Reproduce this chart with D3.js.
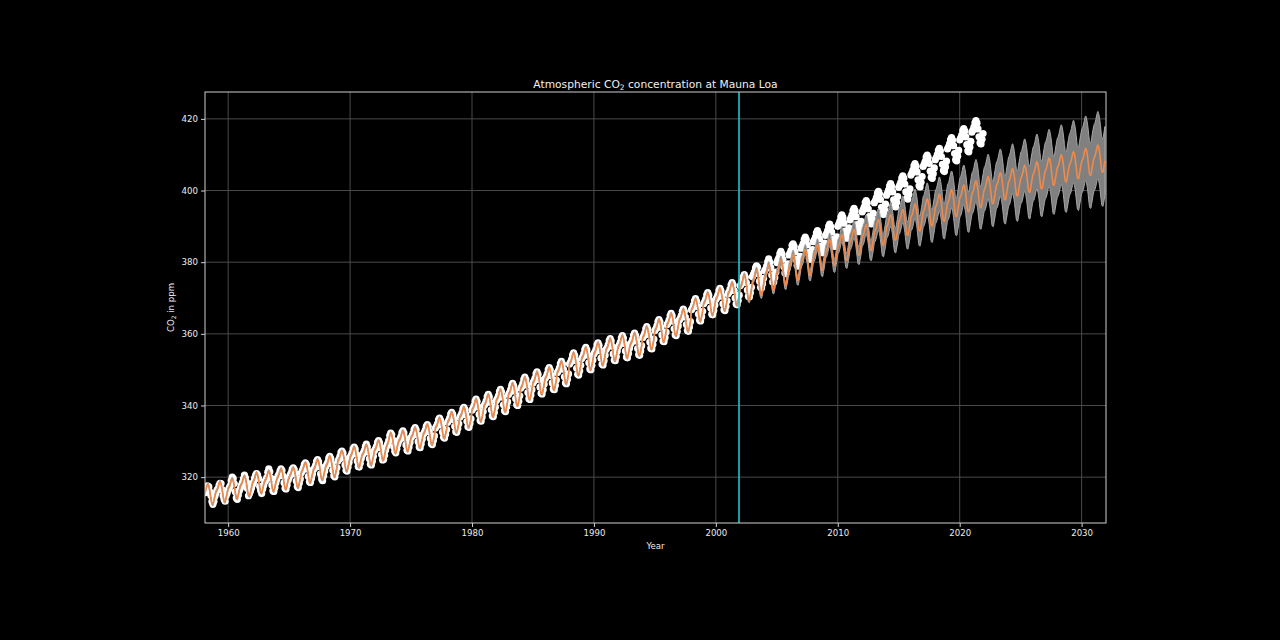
<!DOCTYPE html>
<html><head><meta charset="utf-8">
<script src="https://cdn.jsdelivr.net/npm/d3@7"></script>
<style>body{margin:0;background:#000}</style>
</head><body><svg id="c" width="1280" height="640"></svg>
<script>
// ---- data (monthly) ----
const obsStartYear = 1958, obsStartMonth = 3;
const observedCO2 = [
315.7,317.5,317.5,317.3,315.9,314.9,313.2,312.4,313.3,314.7,
315.6,316.4,316.7,317.7,318.3,318.2,316.5,314.8,313.8,313.3,314.8,315.6,
316.4,317.0,317.6,319.0,320.0,319.6,318.2,315.9,314.2,313.8,315.0,316.2,
316.9,317.7,318.5,319.5,320.6,319.8,318.6,316.8,314.8,315.4,316.1,317.0,
317.9,318.6,319.7,320.6,321.0,320.6,319.6,317.4,316.3,315.4,316.7,317.7,
318.7,319.1,319.9,321.4,322.3,321.5,319.7,317.8,316.2,316.0,317.1,318.4,
319.5,320.3,320.8,321.7,322.3,321.8,320.3,318.4,316.9,316.7,317.8,319.1,
319.9,320.6,321.2,322.2,322.6,322.1,320.9,318.9,317.4,317.1,318.3,319.5,
321.2,321.8,322.6,323.6,324.0,323.5,322.2,320.2,318.7,318.5,319.6,320.9,
322.1,322.5,323.3,324.4,324.9,324.3,323.0,320.9,319.5,319.0,320.4,321.7,
322.9,323.5,324.1,325.3,325.8,325.2,323.7,321.9,320.4,320.1,321.3,322.6,
324.5,325.0,325.8,326.9,327.3,326.7,325.3,323.4,321.9,321.7,322.8,324.1,
325.5,326.1,326.8,327.9,328.4,327.8,326.4,324.5,323.0,322.8,323.9,325.2,
326.2,326.7,327.4,328.5,329.2,328.4,327.0,325.1,323.6,323.4,324.5,325.8,
327.4,327.9,328.6,329.7,330.2,329.6,328.2,326.3,324.8,324.9,326.1,327.6,
328.6,329.3,330.2,331.6,332.3,331.8,330.4,328.5,327.2,326.8,327.9,329.2,
330.1,330.6,331.3,332.4,332.9,332.3,330.9,329.0,327.5,327.3,328.4,329.7,
331.0,331.5,332.2,333.3,333.8,333.2,331.8,329.9,328.4,328.2,329.3,330.6,
331.9,332.4,333.1,334.2,334.7,334.1,332.7,330.8,329.3,329.1,330.2,331.5,
333.7,334.2,334.9,336.0,336.5,335.9,334.5,332.6,331.1,330.9,332.0,333.3,
335.3,335.8,336.5,337.6,338.1,337.5,336.1,334.2,332.7,332.5,333.6,334.9,
336.7,337.2,337.9,339.0,339.5,338.9,337.5,335.6,334.1,333.9,335.0,336.3,
338.7,339.2,340.0,341.2,341.8,341.1,339.6,337.5,335.8,335.6,336.8,338.3,
340.0,340.5,341.3,342.5,343.1,342.4,340.9,338.8,337.1,336.9,338.1,339.6,
341.4,341.9,342.7,343.9,344.5,343.8,342.3,340.2,338.5,338.3,339.5,341.0,
343.1,343.6,344.4,345.6,346.2,345.5,344.0,341.9,340.2,340.0,341.2,342.7,
344.8,345.3,346.1,347.3,347.9,347.2,345.7,343.6,341.9,341.7,342.9,344.4,
346.3,346.8,347.6,348.8,349.4,348.7,347.2,345.1,343.4,343.2,344.4,345.9,
347.5,348.0,348.8,350.0,350.6,349.9,348.4,346.3,344.6,344.4,345.6,347.1,
349.2,349.7,350.5,351.7,352.3,351.6,350.1,348.0,346.3,346.1,347.3,348.8,
351.6,352.1,352.9,354.1,354.7,354.0,352.5,350.4,348.7,348.5,349.7,351.2,
353.1,353.6,354.4,355.6,356.2,355.5,354.0,351.9,350.2,350.0,351.2,352.7,
354.4,354.9,355.7,356.9,357.5,356.8,355.3,353.2,351.5,351.3,352.5,354.0,
355.6,356.1,356.9,358.1,358.7,358.0,356.5,354.4,352.7,352.5,353.7,355.2,
356.4,356.9,357.7,358.9,359.5,358.8,357.3,355.2,353.5,353.3,354.5,356.0,
357.1,357.6,358.4,359.6,360.2,359.5,358.0,355.9,354.2,354.0,355.2,356.7,
358.9,359.4,360.2,361.4,362.0,361.3,359.8,357.7,356.0,355.8,357.0,358.5,
360.9,361.4,362.2,363.4,364.0,363.3,361.8,359.7,358.0,357.8,359.0,360.5,
362.6,363.1,363.9,365.1,365.7,365.0,363.5,361.4,359.7,359.5,360.7,362.2,
363.8,364.3,365.1,366.3,366.9,366.2,364.7,362.6,360.9,360.7,361.9,363.4,
366.7,367.2,368.0,369.2,369.8,369.1,367.6,365.5,363.8,363.6,364.8,366.3,
368.4,368.9,369.7,370.9,371.5,370.8,369.3,367.2,365.5,365.3,366.5,368.0,
369.6,370.1,370.9,372.1,372.7,372.0,370.5,368.4,366.7,366.5,367.7,369.2,
371.2,371.7,372.5,373.7,374.3,373.6,372.1,370.0,368.3,368.1,369.3,370.8,
373.4,373.9,374.7,375.9,376.5,375.8,374.3,372.2,370.5,370.3,371.5,373.0,
375.9,376.6,377.2,378.4,379.0,378.6,376.8,374.7,373.0,372.8,374.0,375.5,
377.6,378.1,378.9,380.1,380.9,380.0,378.5,376.4,374.5,374.5,375.7,377.2,
379.9,380.6,381.2,382.4,383.0,382.3,380.8,378.7,377.0,376.8,378.0,379.5,
382.0,382.5,383.3,384.7,385.1,384.4,382.9,380.8,379.1,378.9,380.1,381.6,
383.9,384.4,385.2,386.4,387.0,386.3,384.8,382.7,381.0,380.8,382.0,383.5,
385.7,386.2,387.0,388.2,388.8,388.1,386.6,384.5,382.8,382.6,383.8,385.3,
387.5,388.0,388.8,390.0,390.6,389.9,388.4,386.3,384.6,384.4,385.6,387.1,
390.0,390.6,391.4,392.6,393.2,392.5,390.9,388.7,387.0,386.7,388.0,389.6,
391.8,392.4,393.2,394.4,395.0,394.3,392.7,390.5,388.8,388.5,389.8,391.4,
394.0,394.6,395.4,396.6,397.2,396.5,394.9,392.7,391.0,390.7,392.0,393.6,
396.6,397.2,398.0,399.2,399.8,399.1,397.5,395.3,393.6,393.3,394.6,396.2,
398.7,399.3,400.1,401.3,401.9,401.2,399.6,397.4,395.7,395.4,396.7,398.3,
400.9,401.5,402.3,403.5,404.1,403.4,401.8,399.6,397.9,397.6,398.9,400.5,
404.3,404.9,405.7,406.9,407.5,406.8,405.2,403.0,401.3,401.0,402.3,403.9,
406.7,407.3,408.1,409.3,409.9,409.2,407.6,405.4,403.7,403.4,404.7,406.3,
408.6,409.2,410.0,411.2,411.8,411.1,409.5,407.3,405.6,405.3,406.6,408.2,
411.6,412.2,413.0,414.2,414.8,414.1,412.5,410.3,408.6,408.3,409.6,411.2,
414.1,414.7,415.5,416.7,417.3,416.6,415.0,412.8,411.1,410.8,412.1,413.7,
416.3,416.9,417.7,418.9,419.5,418.8,417.2,415.0,413.3,413.0,414.3,415.9
];

const predStartYear = 1958, predStartMonth = 1;
const predictedCO2 = [
315.2,315.7,316.4,317.5,318.0,317.4,316.0,314.1,312.6,312.4,313.5,314.8,
315.9,316.4,317.1,318.2,318.7,318.1,316.7,314.8,313.3,313.1,314.2,315.5,
316.8,317.3,318.0,319.1,319.6,319.0,317.6,315.7,314.2,314.0,315.1,316.4,
317.5,318.0,318.7,319.8,320.3,319.7,318.3,316.4,314.9,314.7,315.8,317.1,
318.4,318.9,319.6,320.7,321.2,320.6,319.2,317.3,315.8,315.6,316.7,318.0,
318.9,319.4,320.1,321.2,321.7,321.1,319.7,317.8,316.3,316.1,317.2,318.5,
319.5,320.1,320.8,321.7,322.3,321.8,320.3,318.4,316.9,316.7,317.8,319.1,
319.9,320.6,321.2,322.2,322.6,322.1,320.9,318.9,317.4,317.1,318.3,319.5,
321.2,321.8,322.6,323.6,324.0,323.5,322.2,320.2,318.7,318.5,319.6,320.9,
322.1,322.5,323.3,324.4,324.9,324.3,323.0,320.9,319.5,319.3,320.4,321.7,
322.9,323.5,324.1,325.3,325.8,325.2,323.7,321.9,320.4,320.1,321.3,322.6,
324.5,325.0,325.8,326.9,327.3,326.7,325.3,323.4,321.9,321.7,322.8,324.1,
325.5,326.1,326.8,327.9,328.4,327.8,326.4,324.5,323.0,322.8,323.9,325.2,
326.2,326.7,327.4,328.5,329.0,328.4,327.0,325.1,323.6,323.4,324.5,325.8,
327.4,327.9,328.6,329.7,330.2,329.6,328.2,326.3,324.8,324.9,326.1,327.6,
328.6,329.3,330.2,331.6,332.3,331.8,330.4,328.5,327.0,326.8,327.9,329.2,
330.1,330.6,331.3,332.4,332.9,332.3,330.9,329.0,327.5,327.3,328.4,329.7,
331.0,331.5,332.2,333.3,333.8,333.2,331.8,329.9,328.4,328.2,329.3,330.6,
331.9,332.4,333.1,334.2,334.7,334.1,332.7,330.8,329.3,329.1,330.2,331.5,
333.7,334.2,334.9,336.0,336.5,335.9,334.5,332.6,331.1,330.9,332.0,333.3,
335.3,335.8,336.5,337.6,338.1,337.5,336.1,334.2,332.7,332.5,333.6,334.9,
336.7,337.2,337.9,339.0,339.5,338.9,337.5,335.6,334.1,333.9,335.0,336.3,
338.7,339.2,340.0,341.2,341.8,341.1,339.6,337.5,335.8,335.6,336.8,338.3,
340.0,340.5,341.3,342.5,343.1,342.4,340.9,338.8,337.1,336.9,338.1,339.6,
341.4,341.9,342.7,343.9,344.5,343.8,342.3,340.2,338.5,338.3,339.5,341.0,
343.1,343.6,344.4,345.6,346.2,345.5,344.0,341.9,340.2,340.0,341.2,342.7,
344.8,345.3,346.1,347.3,347.9,347.2,345.7,343.6,341.9,341.7,342.9,344.4,
346.3,346.8,347.6,348.8,349.4,348.7,347.2,345.1,343.4,343.2,344.4,345.9,
347.5,348.0,348.8,350.0,350.6,349.9,348.4,346.3,344.6,344.4,345.6,347.1,
349.2,349.7,350.5,351.7,352.3,351.6,350.1,348.0,346.3,346.1,347.3,348.8,
351.6,352.1,352.9,354.1,354.7,354.0,352.5,350.4,348.7,348.5,349.7,351.2,
353.1,353.6,354.4,355.6,356.2,355.5,354.0,351.9,350.2,350.0,351.2,352.7,
354.4,354.9,355.7,356.9,357.5,356.8,355.3,353.2,351.5,351.3,352.5,354.0,
355.6,356.1,356.9,358.1,358.7,358.0,356.5,354.4,352.7,352.5,353.7,355.2,
356.4,356.9,357.7,358.9,359.5,358.8,357.3,355.2,353.5,353.3,354.5,356.0,
357.1,357.6,358.4,359.6,360.2,359.5,358.0,355.9,354.2,354.0,355.2,356.7,
358.9,359.4,360.2,361.4,362.0,361.3,359.8,357.7,356.0,355.8,357.0,358.5,
360.9,361.4,362.2,363.4,364.0,363.3,361.8,359.7,358.0,357.8,359.0,360.5,
362.6,363.1,363.9,365.1,365.7,365.0,363.5,361.4,359.7,359.5,360.7,362.2,
363.8,364.3,365.1,366.3,366.9,366.2,364.7,362.6,360.9,360.7,361.9,363.4,
366.7,367.2,368.0,369.2,369.8,369.1,367.6,365.5,363.8,363.6,364.8,366.3,
368.4,368.9,369.7,370.9,371.5,370.8,369.3,367.2,365.5,365.3,366.5,368.0,
369.6,370.1,370.9,372.1,372.7,372.0,370.5,368.4,366.7,366.5,367.7,369.2,
371.2,371.7,372.5,373.7,374.3,373.6,372.1,370.0,368.3,368.1,369.3,370.8,
372.9,373.5,374.4,375.8,376.5,375.7,373.9,371.5,369.5,369.3,370.7,372.3,
374.3,374.9,375.8,377.2,377.9,377.1,375.3,372.9,370.9,370.7,372.1,373.7,
375.7,376.3,377.2,378.6,379.3,378.5,376.7,374.3,372.3,372.1,373.5,375.1,
377.1,377.7,378.6,380.0,380.7,379.9,378.1,375.7,373.7,373.5,374.9,376.5,
378.5,379.1,380.0,381.4,382.1,381.3,379.5,377.1,375.1,374.9,376.3,377.9,
379.9,380.5,381.4,382.8,383.5,382.7,380.9,378.5,376.5,376.3,377.7,379.3,
381.3,381.9,382.8,384.2,384.9,384.1,382.3,379.9,377.9,377.7,379.1,380.7,
382.7,383.3,384.2,385.6,386.3,385.5,383.7,381.3,379.3,379.1,380.5,382.1,
384.1,384.7,385.6,387.0,387.7,386.9,385.1,382.7,380.7,380.5,381.9,383.5,
385.5,386.1,387.0,388.4,389.1,388.3,386.5,384.1,382.1,381.9,383.3,384.9,
386.9,387.5,388.4,389.8,390.5,389.7,387.9,385.5,383.5,383.3,384.7,386.3,
388.3,388.9,389.8,391.2,391.9,391.1,389.3,386.9,384.9,384.7,386.1,387.7,
389.7,390.3,391.2,392.6,393.3,392.5,390.7,388.3,386.3,386.1,387.5,389.1,
391.1,391.7,392.6,394.0,394.7,393.9,392.1,389.7,387.7,387.5,388.9,390.5,
392.5,393.1,394.1,395.5,396.3,395.4,393.6,391.0,388.9,388.7,390.2,391.9,
393.9,394.5,395.5,396.9,397.7,396.8,395.0,392.4,390.3,390.1,391.6,393.3,
395.2,395.8,396.8,398.2,399.0,398.1,396.3,393.7,391.6,391.4,392.9,394.6,
396.5,397.1,398.1,399.5,400.3,399.4,397.6,395.0,392.9,392.7,394.2,395.9,
397.8,398.4,399.4,400.8,401.6,400.7,398.9,396.3,394.2,394.0,395.5,397.2,
399.0,399.6,400.6,402.0,402.8,401.9,400.1,397.5,395.4,395.2,396.7,398.4,
400.1,400.7,401.7,403.1,403.9,403.0,401.2,398.6,396.5,396.3,397.8,399.5,
401.2,401.8,402.8,404.2,405.0,404.1,402.3,399.7,397.6,397.4,398.9,400.6,
402.3,402.9,403.9,405.3,406.1,405.2,403.4,400.8,398.7,398.5,400.0,401.7,
403.3,403.9,404.9,406.3,407.1,406.2,404.4,401.8,399.7,399.5,401.0,402.7,
404.3,404.9,405.9,407.3,408.1,407.2,405.4,402.8,400.7,400.5,402.0,403.7,
405.3,405.9,406.9,408.3,409.1,408.2,406.4,403.8,401.7,401.5,403.0,404.7,
406.2,406.8,407.8,409.2,410.0,409.1,407.3,404.7,402.6,402.4,403.9,405.6,
407.1,407.7,408.7,410.1,410.9,410.0,408.2,405.6,403.5,403.3,404.8,406.5,
408.0,408.6,409.6,411.0,411.8,410.9,409.1,406.5,404.4,404.2,405.7,407.4,
408.9,409.5,410.5,411.9,412.7,411.8,410.0,407.4,405.3,405.1,406.6,408.3
];

// uncertainty half-width of the prediction band (ppm) at a few years
const bandYears     = [1958, 2001, 2002, 2006, 2010, 2015, 2020, 2025, 2032];
const bandHalfWidth = [0.4,  0.4,  0.5,  1.2,  2.0,  3.6,  5.4,  7.2,  9.6];

const trainEndYear = 2001.9;
const xTickValues = [1960, 1970, 1980, 1990, 2000, 2010, 2020, 2030];
const yTickValues = [320, 340, 360, 380, 400, 420];

// ---- drawing ----
const svg = d3.select("#c");
svg.append("rect").attr("width",1280).attr("height",640).attr("fill","#000");

const L = 205, R = 1106, T = 92, B = 523;
const x = d3.scaleLinear().domain([1958.1, 2032.0]).range([L, R]);
const y = d3.scaleLinear().domain([307.2, 427.5]).range([B, T]);
const halfW = d3.scaleLinear().domain(bandYears).range(bandHalfWidth).clamp(true);

const obs = observedCO2.map((v,i)=>({t: obsStartYear + (obsStartMonth-1+i)/12, v}));
const pred = predictedCO2.map((v,i)=>{const t = predStartYear + (predStartMonth-1+i)/12; return {t, v, h: halfW(t)};});

svg.append("defs").append("clipPath").attr("id","clip")
  .append("rect").attr("x",L).attr("y",T).attr("width",R-L).attr("height",B-T);

// grid
const grid = svg.append("g");
grid.selectAll("line.gx").data(xTickValues).join("line")
  .attr("x1",d=>x(d)).attr("x2",d=>x(d)).attr("y1",T).attr("y2",B)
  .attr("stroke","#4a4a4a").attr("stroke-width",1);
grid.selectAll("line.gy").data(yTickValues).join("line")
  .attr("y1",d=>y(d)).attr("y2",d=>y(d)).attr("x1",L).attr("x2",R)
  .attr("stroke","#4a4a4a").attr("stroke-width",1);

const plot = svg.append("g").attr("clip-path","url(#clip)");

// observations
plot.append("g").selectAll("circle").data(obs).join("circle")
  .attr("cx",d=>x(d.t)).attr("cy",d=>y(d.v)).attr("r",3.6).attr("fill","#fff");

// band
const area = d3.area().x(d=>x(d.t)).y0(d=>y(d.v-d.h)).y1(d=>y(d.v+d.h)).curve(d3.curveMonotoneX);
plot.append("path").datum(pred).attr("d",area)
  .attr("fill","#808080").attr("stroke","#a8a8a8").attr("stroke-width",1);

// prediction line
const line = d3.line().x(d=>x(d.t)).y(d=>y(d.v)).curve(d3.curveMonotoneX);
plot.append("path").datum(pred).attr("d",line)
  .attr("fill","none").attr("stroke","#ee8a4c").attr("stroke-width",1.6);

// split line
svg.append("line").attr("x1",x(trainEndYear)).attr("x2",x(trainEndYear))
  .attr("y1",T).attr("y2",B).attr("stroke","#1cc6cf").attr("stroke-width",1.6);

// axes
const font = "DejaVu Sans, sans-serif";
const xa = svg.append("g").attr("transform",`translate(0,${B})`)
  .call(d3.axisBottom(x).tickValues(xTickValues).tickFormat(d3.format("d")).tickSize(4).tickPadding(3));
const ya = svg.append("g").attr("transform",`translate(${L},0)`)
  .call(d3.axisLeft(y).tickValues(yTickValues).tickFormat(d3.format("d")).tickSize(4).tickPadding(3));
[xa,ya].forEach(a=>{
  a.select(".domain").remove();
  a.selectAll(".tick line").attr("stroke","#d0d0d0");
  a.selectAll(".tick text").attr("fill","#ececec").style("font-family",font).style("font-size","8.6px");
});

// spines
svg.append("rect").attr("x",L).attr("y",T).attr("width",R-L).attr("height",B-T)
  .attr("fill","none").attr("stroke","#d0d0d0").attr("stroke-width",1);

// title
const title = svg.append("text").attr("x",(L+R)/2).attr("y",88).attr("text-anchor","middle")
  .attr("fill","#f0f0f0").style("font-family",font).style("font-size","10.7px");
title.append("tspan").text("Atmospheric CO");
title.append("tspan").attr("dy",2).style("font-size","7.5px").text("2");
title.append("tspan").attr("dy",-2).text(" concentration at Mauna Loa");

// x label
svg.append("text").attr("x",(L+R)/2).attr("y",549).attr("text-anchor","middle")
  .attr("fill","#ececec").style("font-family",font).style("font-size","8.6px").text("Year");

// y label
const yl = svg.append("text").attr("transform",`translate(174,${(T+B)/2}) rotate(-90)`)
  .attr("text-anchor","middle").attr("fill","#ececec").style("font-family",font).style("font-size","8.6px");
yl.append("tspan").text("CO");
yl.append("tspan").attr("dy",1.8).style("font-size","6px").text("2");
yl.append("tspan").attr("dy",-1.8).text(" in ppm");
</script>
</body></html>
